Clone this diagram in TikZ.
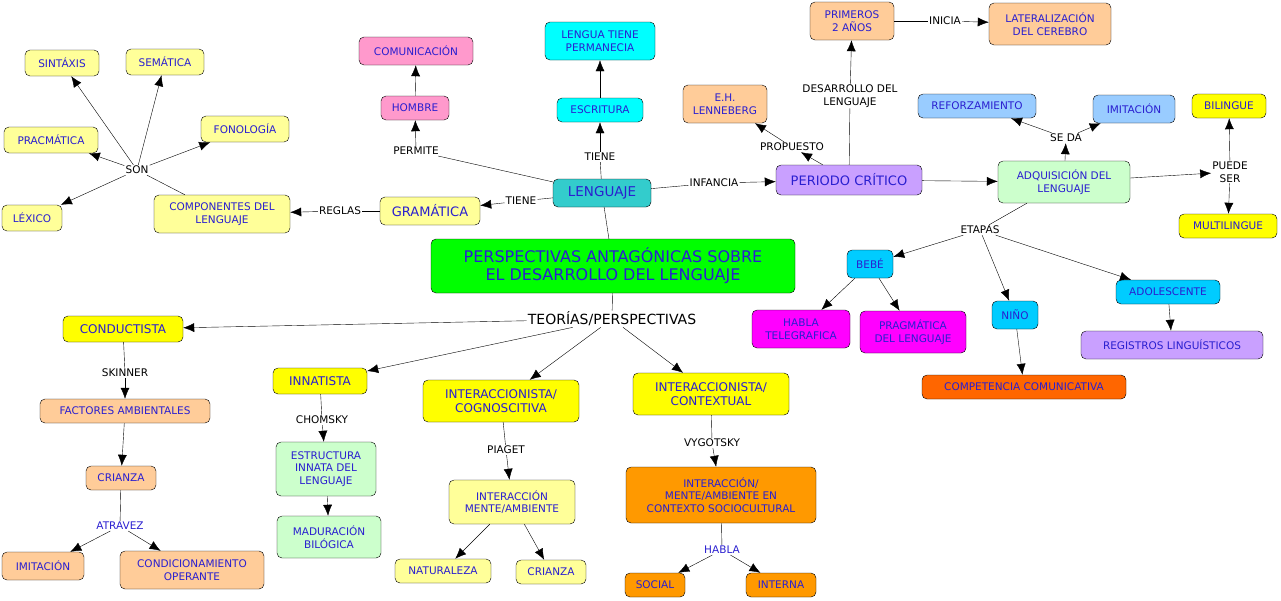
\documentclass[tikz,border=0pt]{standalone}
\usepackage{fontspec}
\setmainfont{DejaVu Sans}
\usetikzlibrary{arrows.meta}
\definecolor{txtblue}{HTML}{2A1FD0}
\definecolor{lyel}{HTML}{FFFF99}
\definecolor{yel}{HTML}{FFFF00}
\definecolor{cyn}{HTML}{00FFFF}
\definecolor{mag}{HTML}{FF00FF}
\definecolor{grn}{HTML}{00FF00}
\definecolor{pinkc}{HTML}{FF99CC}
\definecolor{peach}{HTML}{FFCC99}
\definecolor{lgreen}{HTML}{CCFFCC}
\definecolor{lblue}{HTML}{99CCFF}
\definecolor{skyc}{HTML}{00CCFF}
\definecolor{lilac}{HTML}{C9A0FF}
\definecolor{orng}{HTML}{FF9900}
\definecolor{dorng}{HTML}{FF6600}
\definecolor{tealc}{HTML}{33CCCC}
\tikzset{
  concept/.style={draw, rounded corners=5pt, align=center, text=txtblue,
    font=\fontsize{10.5}{12.5}\selectfont, inner sep=2pt},
  link/.style={align=center, font=\fontsize{10.5}{12.5}\selectfont, inner sep=1pt},
  arr/.style={-{Latex[length=11pt,width=9pt]}},
}
\begin{document}
\begin{tikzpicture}[x=1pt, y=-1pt]
    \useasboundingbox (0,0) rectangle (1281,600);
    % Concepts
    \node [concept, fill=grn, minimum width=364, minimum height=54, font=\fontsize{16}{18}\selectfont] (main) at (613,266) {PERSPECTIVAS ANTAGÓNICAS SOBRE\\EL DESARROLLO DEL LENGUAJE};
    \node [concept, fill=tealc, minimum width=98, minimum height=28, font=\fontsize{13.5}{15}\selectfont] (lenguaje) at (602,193) {LENGUAJE};
    \node [concept, fill=lyel, minimum width=100, minimum height=28, font=\fontsize{13}{15}\selectfont] (gramatica) at (430,211) {GRAMÁTICA};
    \node [concept, fill=lyel, minimum width=136, minimum height=38] (componentes) at (222,214) {COMPONENTES DEL\\LENGUAJE};
    \node [concept, fill=lyel, minimum width=74, minimum height=26] (sintaxis) at (62,63) {SINTÁXIS};
    \node [concept, fill=lyel, minimum width=78, minimum height=26] (sematica) at (165,62) {SEMÁTICA};
    \node [concept, fill=lyel, minimum width=94, minimum height=26] (pracmatica) at (51,140) {PRACMÁTICA};
    \node [concept, fill=lyel, minimum width=88, minimum height=26] (fonologia) at (245,129) {FONOLOGÍA};
    \node [concept, fill=lyel, minimum width=60, minimum height=26] (lexico) at (32,218) {LÉXICO};
    \node [concept, fill=pinkc, minimum width=68, minimum height=24] (hombre) at (415,108) {HOMBRE};
    \node [concept, fill=pinkc, minimum width=114, minimum height=28] (comunicacion) at (416,51) {COMUNICACIÓN};
    \node [concept, fill=cyn, minimum width=86, minimum height=24] (escritura) at (600,110) {ESCRITURA};
    \node [concept, fill=cyn, minimum width=110, minimum height=38] (permanencia) at (600,41) {LENGUA TIENE\\PERMANECIA};
    \node [concept, fill=lilac, minimum width=146, minimum height=30, font=\fontsize{13}{15}\selectfont] (periodo) at (849,180) {PERIODO CRÍTICO};
    \node [concept, fill=peach, minimum width=84, minimum height=38] (lenneberg) at (725,104) {E.H.\\LENNEBERG};
    \node [concept, fill=peach, minimum width=84, minimum height=38] (primeros) at (852,21) {PRIMEROS\\2 AÑOS};
    \node [concept, fill=peach, minimum width=122, minimum height=42] (lateral) at (1050,24) {LATERALIZACIÓN\\DEL CEREBRO};
    \node [concept, fill=lgreen, minimum width=132, minimum height=42] (adquisicion) at (1064,182) {ADQUISICIÓN DEL\\LENGUAJE};
    \node [concept, fill=lblue, minimum width=118, minimum height=24] (reforzamiento) at (977,106) {REFORZAMIENTO};
    \node [concept, fill=lblue, minimum width=82, minimum height=28] (imitacionA) at (1134,109) {IMITACIÓN};
    \node [concept, fill=yel, minimum width=74, minimum height=24] (bilingue) at (1229,106) {BILINGUE};
    \node [concept, fill=yel, minimum width=98, minimum height=24] (multilingue) at (1228,226) {MULTILINGUE};
    \node [concept, fill=skyc, minimum width=46, minimum height=28] (bebe) at (870,264) {BEBÉ};
    \node [concept, fill=mag, minimum width=98, minimum height=38] (habla) at (801,329) {HABLA\\TELEGRAFICA};
    \node [concept, fill=mag, minimum width=106, minimum height=42] (pragmatica) at (913,332) {PRAGMÁTICA\\DEL LENGUAJE};
    \node [concept, fill=skyc, minimum width=46, minimum height=28] (nino) at (1015,315) {NIÑO};
    \node [concept, fill=skyc, minimum width=104, minimum height=24] (adolescente) at (1168,292) {ADOLESCENTE};
    \node [concept, fill=lilac, minimum width=182, minimum height=28] (registros) at (1172,345) {REGISTROS LINGUÍSTICOS};
    \node [concept, fill=dorng, minimum width=204, minimum height=24] (competencia) at (1024,387) {COMPETENCIA COMUNICATIVA};
    \node [concept, fill=yel, minimum width=120, minimum height=26, font=\fontsize{12}{14}\selectfont] (conductista) at (123,329) {CONDUCTISTA};
    \node [concept, fill=peach, minimum width=170, minimum height=24] (factores) at (125,411) {FACTORES AMBIENTALES};
    \node [concept, fill=peach, minimum width=70, minimum height=24] (crianzaA) at (121,478) {CRIANZA};
    \node [concept, fill=peach, minimum width=82, minimum height=28] (imitacionB) at (43,566) {IMITACIÓN};
    \node [concept, fill=peach, minimum width=144, minimum height=38] (condicionamiento) at (192,570) {CONDICIONAMIENTO\\OPERANTE};
    \node [concept, fill=yel, minimum width=94, minimum height=26, font=\fontsize{12}{14}\selectfont] (innatista) at (320,381) {INNATISTA};
    \node [concept, fill=lgreen, minimum width=100, minimum height=54] (estructura) at (326,469) {ESTRUCTURA\\INNATA DEL\\LENGUAJE};
    \node [concept, fill=lgreen, minimum width=104, minimum height=42] (maduracion) at (329,537) {MADURACIÓN\\BILÓGICA};
    \node [concept, fill=yel, minimum width=156, minimum height=42, font=\fontsize{12}{14}\selectfont] (cognitiva) at (501,401) {INTERACCIONISTA/\\COGNOSCITIVA};
    \node [concept, fill=lyel, minimum width=126, minimum height=44] (menteA) at (512,502) {INTERACCIÓN\\MENTE/AMBIENTE};
    \node [concept, fill=lyel, minimum width=96, minimum height=24] (naturaleza) at (443,571) {NATURALEZA};
    \node [concept, fill=lyel, minimum width=70, minimum height=24] (crianzaB) at (551,572) {CRIANZA};
    \node [concept, fill=yel, minimum width=156, minimum height=42, font=\fontsize{12}{14}\selectfont] (contextual) at (711,394) {INTERACCIONISTA/\\CONTEXTUAL};
    \node [concept, fill=orng, minimum width=190, minimum height=56] (menteB) at (721,495) {INTERACCIÓN/\\MENTE/AMBIENTE EN\\CONTEXTO SOCIOCULTURAL};
    \node [concept, fill=orng, minimum width=60, minimum height=24] (social) at (655,585) {SOCIAL};
    \node [concept, fill=orng, minimum width=70, minimum height=24] (interna) at (781,585) {INTERNA};
    % Linking phrases
    \node [link] (son) at (137,170) {SON};
    \node [link] (reglas) at (340,211) {REGLAS};
    \node [link] (tieneA) at (521,201) {TIENE};
    \node [link] (permite) at (416,151) {PERMITE};
    \node [link] (tieneB) at (600,157) {TIENE};
    \node [link] (infancia) at (714,183) {INFANCIA};
    \node [link] (propuesto) at (792,147) {PROPUESTO};
    \node [link] (desarrollo) at (850,96) {DESARROLLO DEL\\LENGUAJE};
    \node [link] (inicia) at (945,21) {INICIA};
    \node [link] (seda) at (1066,138) {SE DA};
    \node [link] (puede) at (1230,172) {PUEDE\\SER};
    \node [link] (etapas) at (980,230) {ETAPAS};
    \node [link, font=\fontsize{14}{16}\selectfont] (teorias) at (612,319) {TEORÍAS/PERSPECTIVAS};
    \node [link] (skinner) at (125,373) {SKINNER};
    \node [link, text=txtblue] (atravez) at (120,526) {ATRAVEZ};
    \node [link] (chomsky) at (322,420) {CHOMSKY};
    \node [link] (piaget) at (506,450) {PIAGET};
    \node [link] (vygotsky) at (712,443) {VYGOTSKY};
    \node [link, text=txtblue] (hablaB) at (722,550) {HABLA};
    % Connectors
    \draw (componentes) -- (son);
    \foreach \t in {sintaxis,sematica,pracmatica,fonologia,lexico}
      \draw [arr] (son) -- (\t);
    \draw (gramatica) -- (reglas);
    \draw [arr] (reglas) -- (componentes);
    \draw (lenguaje) -- (tieneA);
    \draw [arr] (tieneA) -- (gramatica);
    \draw (lenguaje) -- (permite);
    \draw [arr] (permite) -- (hombre);
    \draw [arr] (hombre) -- (comunicacion);
    \draw (lenguaje) -- (tieneB);
    \draw [arr] (tieneB) -- (escritura);
    \draw [arr] (escritura) -- (permanencia);
    \draw (lenguaje) -- (infancia);
    \draw [arr] (infancia) -- (periodo);
    \draw [arr] (periodo) -- (propuesto);
    \draw [arr] (propuesto) -- (lenneberg);
    \draw (periodo) -- (desarrollo);
    \draw [arr] (desarrollo) -- (primeros);
    \draw (primeros) -- (inicia);
    \draw [arr] (inicia) -- (lateral);
    \draw [arr] (periodo) -- (adquisicion);
    \draw [arr] (adquisicion) -- (seda);
    \draw [arr] (seda) -- (reforzamiento);
    \draw [arr] (seda) -- (imitacionA);
    \draw [arr] (adquisicion) -- (puede);
    \draw [arr] (puede) -- (bilingue);
    \draw [arr] (puede) -- (multilingue);
    \draw (adquisicion) -- (etapas);
    \foreach \t in {bebe,nino,adolescente}
      \draw [arr] (etapas) -- (\t);
    \draw [arr] (bebe) -- (habla);
    \draw [arr] (bebe) -- (pragmatica);
    \draw [arr] (nino) -- (competencia);
    \draw [arr] (adolescente) -- (registros);
    \draw (main) -- (lenguaje);
    \draw (main) -- (teorias);
    \foreach \t in {conductista,innatista,cognitiva,contextual}
      \draw [arr] (teorias) -- (\t);
    \draw (conductista) -- (skinner);
    \draw [arr] (skinner) -- (factores);
    \draw [arr] (factores) -- (crianzaA);
    \draw (crianzaA) -- (atravez);
    \draw [arr] (atravez) -- (imitacionB);
    \draw [arr] (atravez) -- (condicionamiento);
    \draw (innatista) -- (chomsky);
    \draw [arr] (chomsky) -- (estructura);
    \draw [arr] (estructura) -- (maduracion);
    \draw (cognitiva) -- (piaget);
    \draw [arr] (piaget) -- (menteA);
    \draw [arr] (menteA) -- (naturaleza);
    \draw [arr] (menteA) -- (crianzaB);
    \draw (contextual) -- (vygotsky);
    \draw [arr] (vygotsky) -- (menteB);
    \draw (menteB) -- (hablaB);
    \draw [arr] (hablaB) -- (social);
    \draw [arr] (hablaB) -- (interna);
\end{tikzpicture}
\end{document}
